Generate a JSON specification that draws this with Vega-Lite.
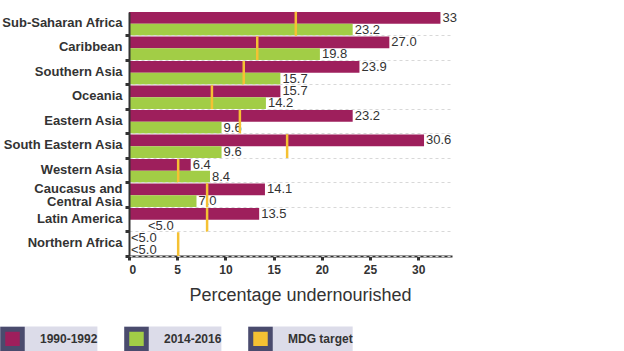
{
  "$schema": "https://vega.github.io/schema/vega-lite/v6.json",
  "width": 323,
  "height": 244,
  "autosize": {"type": "none"},
  "padding": {"left": 129, "top": 12, "right": 172, "bottom": 95},
  "background": "white",
  "config": {"font": "Liberation Sans", "view": {"stroke": null}},
  "data": {
    "values": [
      {"region": "Sub-Saharan Africa", "series": "1990-1992", "value": 32.3, "label": "33"},
      {"region": "Sub-Saharan Africa", "series": "2014-2016", "value": 23.2, "label": "23.2"},
      {"region": "Sub-Saharan Africa", "series": "MDG target", "value": 17.3, "label": ""},
      {"region": "Caribbean", "series": "1990-1992", "value": 27.0, "label": "27.0"},
      {"region": "Caribbean", "series": "2014-2016", "value": 19.8, "label": "19.8"},
      {"region": "Caribbean", "series": "MDG target", "value": 13.3, "label": ""},
      {"region": "Southern Asia", "series": "1990-1992", "value": 23.9, "label": "23.9"},
      {"region": "Southern Asia", "series": "2014-2016", "value": 15.7, "label": "15.7"},
      {"region": "Southern Asia", "series": "MDG target", "value": 11.9, "label": ""},
      {"region": "Oceania", "series": "1990-1992", "value": 15.7, "label": "15.7"},
      {"region": "Oceania", "series": "2014-2016", "value": 14.2, "label": "14.2"},
      {"region": "Oceania", "series": "MDG target", "value": 8.6, "label": ""},
      {"region": "Eastern Asia", "series": "1990-1992", "value": 23.2, "label": "23.2"},
      {"region": "Eastern Asia", "series": "2014-2016", "value": 9.6, "label": "9.6"},
      {"region": "Eastern Asia", "series": "MDG target", "value": 11.5, "label": ""},
      {"region": "South Eastern Asia", "series": "1990-1992", "value": 30.6, "label": "30.6"},
      {"region": "South Eastern Asia", "series": "2014-2016", "value": 9.6, "label": "9.6"},
      {"region": "South Eastern Asia", "series": "MDG target", "value": 16.4, "label": ""},
      {"region": "Western Asia", "series": "1990-1992", "value": 6.4, "label": "6.4"},
      {"region": "Western Asia", "series": "2014-2016", "value": 8.4, "label": "8.4"},
      {"region": "Western Asia", "series": "MDG target", "value": 5.1, "label": ""},
      {"region": "Caucasus and Central Asia", "series": "1990-1992", "value": 14.1, "label": "14.1"},
      {"region": "Caucasus and Central Asia", "series": "2014-2016", "value": 7.0, "label": "7.0"},
      {"region": "Caucasus and Central Asia", "series": "MDG target", "value": 8.1, "label": ""},
      {"region": "Latin America", "series": "1990-1992", "value": 13.5, "label": "13.5"},
      {"region": "Latin America", "series": "2014-2016", "value": 0, "label": "<5.0"},
      {"region": "Latin America", "series": "MDG target", "value": 8.1, "label": ""},
      {"region": "Northern Africa", "series": "1990-1992", "value": 0, "label": "<5.0"},
      {"region": "Northern Africa", "series": "2014-2016", "value": 0, "label": "<5.0"},
      {"region": "Northern Africa", "series": "MDG target", "value": 5.1, "label": ""}
    ]
  },
  "encoding": {
    "y": {
      "field": "region",
      "type": "nominal",
      "sort": ["Sub-Saharan Africa", "Caribbean", "Southern Asia", "Oceania", "Eastern Asia", "South Eastern Asia", "Western Asia", "Caucasus and Central Asia", "Latin America", "Northern Africa"],
      "scale": {"paddingInner": 0.04, "paddingOuter": 0},
      "axis": {
        "title": null,
        "bandPosition": 1,
        "labelExpr": "datum.label == 'Caucasus and Central Asia' ? ['Caucasus and', 'Central Asia'] : datum.label",
        "labelOffset": {"condition": {"test": "datum.value == 'Caucasus and Central Asia'", "value": -6}, "value": -1},
        "labelLineHeight": 13,
        "labelFontSize": 13,
        "labelFontWeight": "bold",
        "labelColor": "#333333",
        "labelPadding": 3,
        "tickSize": 4,
        "tickWidth": 3,
        "tickColor": "#333333",
        "domainColor": "#333333",
        "domainWidth": 2,
        "grid": true,
        "gridDash": [3, 3],
        "gridColor": "#d8d8d8",
        "gridWidth": 1,
        "zindex": 1
      }
    }
  },
  "layer": [
    {
      "transform": [{"filter": "datum.series != 'MDG target'"}],
      "mark": {"type": "bar"},
      "encoding": {
        "x": {
          "field": "value",
          "type": "quantitative",
          "scale": {"domain": [0, 33.5], "nice": false},
          "axis": {
            "title": "Percentage undernourished",
            "values": [0, 2.5, 5, 7.5, 10, 12.5, 15, 17.5, 20, 22.5, 25, 27.5, 30, 32.5],
            "labelExpr": "datum.value % 5 == 0 ? datum.label : ''",
            "labelFontSize": 12,
            "labelFontWeight": "bold",
            "labelColor": "#333333",
            "labelPadding": 4,
            "tickSize": 4,
            "tickWidth": 3,
            "tickColor": "#333333",
            "domainColor": "#333333",
            "domainWidth": 2,
            "grid": false,
            "titleFontSize": 18,
            "titleFontWeight": "normal",
            "titleColor": "#333333",
            "titlePadding": 11,
            "titleX": 171
          }
        },
        "yOffset": {"field": "series", "sort": ["1990-1992", "2014-2016"]},
        "color": {
          "field": "series",
          "type": "nominal",
          "scale": {"domain": ["1990-1992", "2014-2016", "MDG target"], "range": ["#9e1f5c", "#a2cd46", "#f5c133"]},
          "legend": {
            "orient": "none",
            "legendX": -129,
            "legendY": 314,
            "direction": "horizontal",
            "title": null,
            "symbolType": "square",
            "symbolSize": 380,
            "symbolStrokeColor": "#4a4b6d",
            "symbolStrokeWidth": 5,
            "symbolOpacity": 1,
            "labelFontSize": 12,
            "labelFontWeight": "bold",
            "labelColor": "#333333",
            "labelOffset": 15,
            "columnPadding": 18,
            "encode": {
              "entries": {"update": {"fill": {"value": "#dcdce9"}}}
            }
          }
        }
      }
    },
    {
      "transform": [{"filter": "datum.series != 'MDG target' && !(datum.region == 'Latin America' && datum.series == '2014-2016')"}],
      "mark": {"type": "text", "align": "left", "baseline": "middle", "dx": 2, "fontSize": 13, "color": "#333333"},
      "encoding": {
        "x": {"field": "value", "type": "quantitative"},
        "yOffset": {"field": "series", "sort": ["1990-1992", "2014-2016"]},
        "text": {"field": "label"}
      }
    },
    {
      "transform": [{"filter": "datum.region == 'Latin America' && datum.series == '2014-2016'"}],
      "mark": {"type": "text", "align": "left", "baseline": "middle", "dx": 19, "fontSize": 13, "color": "#333333"},
      "encoding": {
        "x": {"field": "value", "type": "quantitative"},
        "yOffset": {"field": "series", "sort": ["1990-1992", "2014-2016"]},
        "text": {"field": "label"}
      }
    },
    {
      "transform": [{"filter": "datum.series == 'MDG target'"}],
      "mark": {"type": "tick", "orient": "vertical", "size": 24, "thickness": 2.5, "opacity": 1},
      "encoding": {
        "x": {"field": "value", "type": "quantitative"},
        "color": {"field": "series", "type": "nominal"}
      }
    }
  ]
}
